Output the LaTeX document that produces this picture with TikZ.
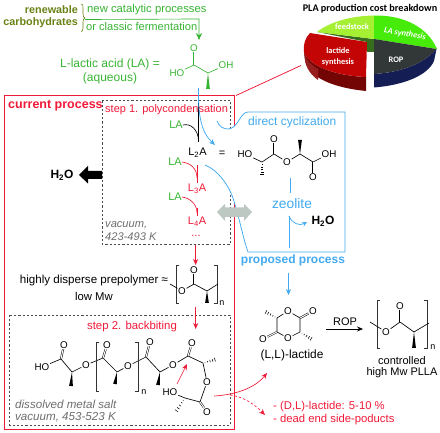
\documentclass[tikz,border=0pt]{standalone}
\usepackage{fontspec}
\setmainfont{Liberation Sans}
\newfontfamily\piefont{Carlito}
\usetikzlibrary{arrows.meta,calc}
\definecolor{grn}{RGB}{55,180,50}
\definecolor{oli}{RGB}{105,130,20}
\definecolor{rd}{RGB}{240,25,55}
\definecolor{blu}{RGB}{65,170,240}
\definecolor{gry}{RGB}{110,110,110}
\tikzset{
 txt/.style={inner sep=0pt,font=\fontsize{11}{13}\selectfont},
 bnd/.style={line width=.65pt,black},
 dbl/.style={line width=.5pt,double,double distance=1pt,black},
 atom/.style={inner sep=.6pt,font=\fontsize{9.8}{11}\selectfont,black},
 gatom/.style={atom,text=grn},
 tip/.style={-{Stealth[length=6pt,width=5pt]}},
 boxdash/.style={line width=.8pt,dash pattern=on 2.2pt off 2pt,black!70},
 pietxt/.style={inner sep=0pt,text=white,font=\piefont\bfseries\fontsize{8.4}{10}\selectfont},
}
\newcommand{\wedgeb}[3][black]{\fill[#1] (#2) -- ($(#3)!1.9pt!90:(#2)$) -- ($(#3)!1.9pt!-90:(#2)$) -- cycle;}
\newcommand{\hashb}[2]{\foreach \t/\w in {.15/.3pt,.32/.7pt,.5/1.1pt,.68/1.5pt,.85/1.9pt,1/2.3pt}
  \draw[line width=.55pt] ($(#1)!\t!(#2)!\w!90:(#2)$) -- ($(#1)!\t!(#2)!\w!-90:(#2)$);}
\newcommand{\brk}[4]{\draw[line width=.6pt,black!80] (#1+#4,#2) -- (#1,#2) -- (#1,#3) -- (#1+#4,#3);}
\begin{document}
\begin{tikzpicture}[x=1pt,y=-1pt]
\useasboundingbox (0,0) rectangle (440,433);
% ---------- pie
\fill[fill={rgb,255:red,55;green,110;blue,30}] (317,32) -- (374,39) -- (374,52) -- (367,52) -- (367,42) -- cycle;
\fill[fill={rgb,255:red,165;green,240;blue,50}] (317,32) .. controls (330,22) and (350,16) .. (374,15.5) -- (374,39) -- cycle;
\fill[fill={rgb,255:red,70;green,235;blue,10}] (374,15.5) .. controls (405,15) and (428,28) .. (437,49) -- (374,39) -- cycle;
\fill[fill={rgb,255:red,20;green,30;blue,85}] (436.5,49) .. controls (425,62) and (405,72) .. (374,74) -- (374,87.5) .. controls (405,85) and (428,75) .. (434,61) -- cycle;
\fill[fill={rgb,255:red,50;green,55;blue,55}] (374,39) -- (436.5,49) .. controls (425,62) and (405,72) .. (374,74) -- cycle;
\fill[fill={rgb,255:red,115;green,5;blue,5}] (304,52) .. controls (310,68) and (340,76) .. (366,77) -- (366,91) .. controls (335,88) and (308,78) .. (305,60) -- cycle;
\fill[fill={rgb,255:red,150;green,30;blue,30}] (304,52) .. controls (306,60) and (311,65) .. (318,69) -- (318,80) .. controls (311,75) and (306,68) .. (305,60) -- cycle;
\fill[fill={rgb,255:red,195;green,5;blue,5}] (310,33) -- (367,42) -- (366,77) .. controls (340,76) and (310,68) .. (304,52) .. controls (303,45) and (305,38) .. (310,33) -- cycle;
\node[pietxt] (pfeed) at (352,27) {feedstock};
\node[pietxt,rotate=-9,font=\piefont\bfseries\itshape\fontsize{8.4}{10}\selectfont] (pla) at (405,34) {LA synthesis};
\node[pietxt] (plac) at (338,51) {lactide};
\node[pietxt] (plsy) at (338,62) {synthesis};
\node[pietxt] (prop) at (396,60) {ROP};
\node[inner sep=0pt,font=\piefont\bfseries\fontsize{10.2}{12}\selectfont] (ptitle) at (370,9) {PLA production cost breakdown};
% ---------- top text
\node[txt,anchor=east,text=oli,font=\bfseries\fontsize{10.8}{13}\selectfont] (ren) at (78,10) {renewable};
\node[txt,anchor=east,text=oli,font=\bfseries\fontsize{10.8}{13}\selectfont] (carb) at (78,23) {carbohydrates};
\draw[oli,line width=.6pt] (81,4) .. controls (83,4) and (83,5) .. (83,8) -- (83,14) .. controls (83,17) and (84,17.5) .. (85,18) .. controls (84,18.5) and (83,19) .. (83,22) -- (83,28) .. controls (83,31) and (82,31.5) .. (81,31.5);
\node[txt,anchor=west,text=grn,font=\fontsize{11.3}{13}\selectfont] (newcat) at (87,9.5) {new catalytic processes};
\node[txt,anchor=west,text=grn,font=\fontsize{11.1}{13}\selectfont] (classic) at (86,27) {or classic fermentation};
\coordinate (gstart) at (85,19.5);
\coordinate (gtip) at (199,40);
\draw[grn,line width=.65pt,-{Stealth[length=7pt,width=6pt]}] (gstart) -- (199,19) -- (gtip);
\node[txt,text=grn,font=\fontsize{12}{14}\selectfont] (lact) at (110,64) {L-lactic acid (LA) =};
\node[txt,text=grn,font=\fontsize{12}{14}\selectfont] (aq) at (110,78) {(aqueous)};
% LA molecule
\node[gatom] (a1) at (194,48) {O};
\coordinate (a2) at (194,65);
\node[gatom] (a3) at (177,73) {HO};
\coordinate (a4) at (208,73);
\node[gatom] (a5) at (226,65) {OH};
\coordinate (a6) at (208,89);
\begin{scope}[grn]
\draw[bnd,grn] (a3) -- (a2) -- (a4) -- (a5);
\draw[dbl,double=white,draw=grn] (a2) -- (a1);
\wedgeb[grn]{a4}{a6}
\end{scope}
% ---------- boxes
\draw[rd,line width=1pt] (4.5,96) rectangle (234,430);
\draw[boxdash] (102,100.5) rectangle (230.5,244);
\draw[boxdash] (9.5,315) rectangle (230.5,425);
% line to pie
\coordinate (rdc) at (236,95.5);
\coordinate (pieL) at (301,65.5);
\draw[rd,line width=.75pt] (rdc) -- (pieL);
% ---------- blue region
\draw[blu,line width=.75pt,fill=white] (217,121) .. controls (219,127) and (224,129) .. (228,129) .. controls (238,129) and (240,112) .. (248,112) -- (345,112) -- (345,252) -- (248,252) .. controls (243,238) and (240,220) .. (233,198) .. controls (227,182) and (217,170) .. (205,165);
\node[txt,anchor=west,text=blu,font=\fontsize{12}{14}\selectfont] (dc) at (248,122) {direct cyclization};
\node[txt,text=blu,font=\bfseries\fontsize{12}{14}\selectfont] (pp) at (293,260) {proposed process};
% ---------- texts in box 1
\node[txt,anchor=west,text=rd,font=\bfseries\fontsize{12.5}{14}\selectfont] (cp) at (8,106) {current process};
\node[txt,anchor=west,text=rd] (s1) at (105,110) {step 1. polycondensation};
\node[txt,anchor=west,text=gry,font=\itshape\fontsize{11.1}{13}\selectfont] (vac1) at (105,225) {vacuum,};
\node[txt,anchor=west,text=gry,font=\itshape\fontsize{11.1}{13}\selectfont] (vac2) at (105,237) {423-493 K};
% steps
\coordinate (top) at (198.5,88);
\coordinate (v1) at (198.5,142);
\draw[bnd] (top) -- (v1);
\draw[blu,line width=.75pt,tip] (top) .. controls (198,115) and (201,132) .. (215,145);
\node[txt,text=grn] (la1) at (176,125) {LA};
\draw[bnd] (la1.east) .. controls (191,123) and (198,130) .. (198.5,140);
\node[txt] (l2a) at (197.5,153) {L\textsubscript{2}A};
\node[txt] (eq) at (222,154) {=};
\node[txt,text=grn] (la2) at (175,162) {LA};
\node[txt,text=rd] (l3a) at (197,189) {L\textsubscript{3}A};
\node[txt,text=grn] (la3) at (175,197) {LA};
\node[txt,text=rd] (l4a) at (197,222) {L\textsubscript{4}A};
\node[txt,text=rd] (dots) at (196,236) {...};
\coordinate (v2) at (197,165);
\coordinate (v3) at (197,183);
\coordinate (v4) at (197,208);
\coordinate (v5) at (197,216);
\draw[rd,line width=.65pt] (v2) -- (v3);
\draw[rd,line width=.65pt] (v4) -- (v5);
\draw[rd,line width=.65pt] (la2.east) .. controls (190,163) and (197,168) .. (197,178);
\draw[rd,line width=.65pt] (la3.east) .. controls (190,198) and (197,204) .. (197,213);
\coordinate (r1) at (195.6,245);
\coordinate (r2) at (195.6,265);
\draw[rd,line width=.65pt,tip] (r1) -- (r2);
% water arrow
\node[txt,font=\bfseries\fontsize{12}{14}\selectfont] (w1) at (62,175) {H\textsubscript{2}O};
\fill (102,171) -- (88,171) -- (88,166) -- (79,175) -- (88,183.5) -- (88,179) -- (102,179) -- cycle;
% L2A molecule
\node[atom] (b1) at (245,154) {HO};
\coordinate (b2) at (262,162);
\coordinate (b3) at (262,177);
\coordinate (b4) at (274,154);
\node[atom] (b5) at (274,139) {O};
\node[atom] (b6) at (287,162) {O};
\coordinate (b7) at (300,154);
\coordinate (b8) at (300,140);
\coordinate (b9) at (313,162);
\node[atom] (b10) at (329,154) {OH};
\node[atom] (b11) at (313,177) {O};
\draw[bnd] (b1) -- (b2) -- (b4) -- (b6) -- (b7) -- (b9) -- (b10);
\draw[dbl] (b4) -- (b5);
\draw[dbl] (b9) -- (b11);
\hashb{b2}{b3}
\wedgeb{b7}{b8}
% zeolite
\coordinate (z1) at (290,178);
\coordinate (z2) at (290,193);
\coordinate (z3) at (289,216);
\coordinate (z4) at (289,248);
\coordinate (z5) at (307,222);
\coordinate (z6) at (288.5,273);
\coordinate (z7) at (288.5,295);
\draw[blu,line width=.75pt] (z1) -- (z2);
\draw[blu,line width=.75pt] (z3) -- (z4);
\draw[blu,line width=.75pt,-{Stealth[length=5pt,width=4.5pt]}] (z3) .. controls (292,224) and (300,226) .. (z5);
\draw[blu,line width=.75pt,tip] (z6) -- (z7);
\node[txt,text=blu,font=\fontsize{13.8}{16}\selectfont] (zeo) at (292,204) {zeolite};
\node[txt,font=\bfseries\fontsize{12}{14}\selectfont] (w2) at (323,221) {H\textsubscript{2}O};
% gray double arrow
\fill[fill={rgb,255:red,190;green,200;blue,195}] (217,212) -- (225,204) -- (225,207.5) -- (244,207.5) -- (244,204) -- (252,212) -- (244,221) -- (244,217) -- (225,217) -- (225,221) -- cycle;
% ---------- prepolymer
\node[txt,font=\fontsize{11.6}{13}\selectfont] (hd) at (94,281) {highly disperse prepolymer ≈};
\node[txt,font=\fontsize{11.3}{13}\selectfont] (lm) at (94,296) {low Mw};
\brk{176}{265}{303}{3}
\brk{217}{265}{303}{-3}
\node[atom,font=\fontsize{9}{10}\selectfont] (n1) at (222,303) {n};
\coordinate (c1) at (170,284);
\node[atom] (c2) at (182,291) {O};
\coordinate (c3) at (194,284);
\node[atom] (c4) at (194,270) {O};
\coordinate (c5) at (207,291);
\coordinate (c6) at (207,303);
\coordinate (c7) at (218,284);
\draw[bnd] (c1) -- (c2) -- (c3) -- (c5) -- (c7);
\draw[dbl] (c3) -- (c4);
\wedgeb{c5}{c6}
% ---------- box 2
\node[txt,text=rd,font=\fontsize{11.4}{13}\selectfont] (s2) at (132,327) {step 2. backbiting};
\coordinate (r3) at (195.7,307);
\coordinate (r4) at (195.7,329);
\draw[rd,line width=.65pt,tip] (r3) -- (r4);
\node[atom] (d1) at (64,345) {O};
\coordinate (d2) at (61,359);
\node[atom] (d3) at (42,367) {HO};
\coordinate (d4) at (72,372);
\coordinate (d5) at (71,386);
\node[atom] (d6) at (86,365) {O};
\coordinate (d7) at (103,358);
\node[atom] (d8) at (107,345) {O};
\coordinate (d9) at (117,372);
\coordinate (d10) at (115,384);
\node[atom] (d11) at (128,366) {O};
\coordinate (d12) at (146,357);
\node[atom] (d13) at (150,342) {O};
\coordinate (d14) at (160,372);
\coordinate (d15) at (158,385);
\node[atom] (d16) at (173,365) {O};
\coordinate (d17) at (188,356);
\node[atom] (d18) at (192,343) {O};
\coordinate (d19) at (203,363);
\coordinate (d20) at (217,359);
\node[atom] (d21) at (207,382) {O};
\coordinate (d22) at (200,402);
\node[atom] (d23) at (207,412) {O};
\coordinate (d24) at (185,398);
\coordinate (d25) at (175,413);
\node[atom] (d26) at (170,392) {HO};
\draw[bnd] (d3) -- (d2) -- (d4) -- (d6) -- (d7) -- (d9) -- (d11) -- (d12) -- (d14) -- (d16) -- (d17) -- (d19) -- (d21) -- (d22) -- (d24) -- (d26);
\draw[dbl] (d2) -- (d1);
\draw[dbl] (d7) -- (d8);
\draw[dbl] (d12) -- (d13);
\draw[dbl] (d17) -- (d18);
\draw[dbl] (d22) -- (d23);
\wedgeb{d4}{d5}
\wedgeb{d9}{d10}
\wedgeb{d14}{d15}
\hashb{d19}{d20}
\hashb{d24}{d25}
\brk{96}{342}{391}{3}
\brk{138}{342}{391}{-3}
\node[atom,font=\fontsize{9}{10}\selectfont] (n2) at (144,392) {n};
\coordinate (r5) at (177,384);
\coordinate (r6) at (187,364);
\draw[rd,line width=.65pt,tip] (r5) -- (r6);
\node[txt,anchor=west,text=gry,font=\itshape\fontsize{11.6}{13}\selectfont] (ds) at (15,404) {dissolved metal salt};
\node[txt,anchor=west,text=gry,font=\itshape\fontsize{11.6}{13}\selectfont] (vs) at (15,417) {vacuum, 453-523 K};
% ---------- lactide
\node[atom] (e1) at (288,311) {O};
\coordinate (e2) at (300,318);
\node[atom] (e3) at (313,311) {O};
\coordinate (e4) at (300,332);
\coordinate (e5) at (313,340);
\node[atom] (e6) at (288,338) {O};
\coordinate (e7) at (277,332);
\node[atom] (e8) at (263,339) {O};
\coordinate (e9) at (277,318);
\coordinate (e10) at (264,311);
\draw[bnd] (e1) -- (e2) -- (e4) -- (e6) -- (e7) -- (e9) -- (e1);
\draw[dbl] (e2) -- (e3);
\draw[dbl] (e7) -- (e8);
\hashb{e4}{e5}
\hashb{e9}{e10}
\node[txt,font=\fontsize{11.9}{14}\selectfont] (ll) at (292,355) {(L,L)-lactide};
\node[txt,font=\fontsize{11}{13}\selectfont] (rop) at (345,322) {ROP};
\coordinate (f1) at (326,329);
\coordinate (f2) at (363,329);
\draw[line width=.65pt,tip] (f1) -- (f2);
% ---------- PLLA
\brk{377}{300}{348}{3}
\brk{427}{300}{348}{-3}
\node[atom,font=\fontsize{9}{10}\selectfont] (n3) at (433,347) {n};
\coordinate (g1) at (370,322);
\node[atom] (g2) at (386,332) {O};
\coordinate (g3) at (400,322);
\node[atom] (g4) at (400,306) {O};
\coordinate (g5) at (414,332);
\coordinate (g6) at (414,348);
\coordinate (g7) at (429,323);
\draw[bnd] (g1) -- (g2) -- (g3) -- (g5) -- (g7);
\draw[dbl] (g3) -- (g4);
\wedgeb{g5}{g6}
\node[txt,font=\fontsize{11}{13}\selectfont] (ctl) at (402,361) {controlled};
\node[txt,font=\fontsize{11}{13}\selectfont] (hm) at (402,373) {high Mw PLLA};
% ---------- side products
\coordinate (h1) at (214,396);
\coordinate (h2) at (267,373);
\draw[rd,line width=.65pt,tip] (h1) .. controls (235,395) and (255,388) .. (h2);
\coordinate (h3) at (230,395);
\coordinate (h4) at (265,415);
\draw[rd,line width=.65pt,dash pattern=on 2.5pt off 2pt,-{Stealth[length=6pt,width=5pt]}] (h3) .. controls (245,397) and (255,405) .. (h4);
\node[txt,anchor=west,text=rd,font=\fontsize{11.3}{13}\selectfont] (t1) at (273,407) {- (D,L)-lactide: 5-10 \%};
\node[txt,anchor=west,text=rd,font=\fontsize{11.3}{13}\selectfont] (t2) at (273,420) {- dead end side-poducts};
\end{tikzpicture}
\end{document}
